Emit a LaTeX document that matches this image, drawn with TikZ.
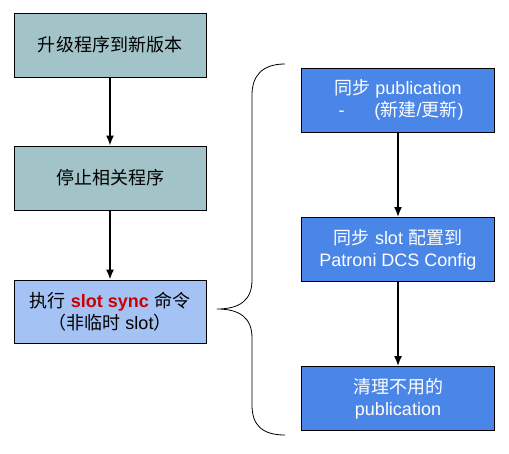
\documentclass[tikz,border=0pt]{standalone}
\usepackage{fontspec}
\setmainfont{Liberation Sans}
\newfontfamily\cjk{Noto Sans CJK SC}
\usetikzlibrary{arrows.meta}
\definecolor{teal1}{HTML}{A2C4C9}
\definecolor{lblue}{HTML}{A4C2F4}
\definecolor{dblue}{HTML}{4A86E8}
\definecolor{redt}{HTML}{CC0000}
\tikzset{
  box/.style={draw=black, line width=0.9bp, minimum width=192bp, minimum height=64bp,
    align=center, inner sep=0pt, font=\fontsize{18bp}{21.7bp}\selectfont},
  leftbox/.style={box, fill=teal1, text=black},
  execbox/.style={box, fill=lblue, text=black, minimum height=63bp},
  rightbox/.style={box, fill=dblue, text=white, minimum width=193bp},
  flow/.style={line width=1.6bp, -{Latex[length=10bp,width=8bp]}},
  brace/.style={line width=0.8bp, black}
}
\begin{document}
\begin{tikzpicture}[x=1bp,y=-1bp]
\useasboundingbox (0,0) rectangle (509,454);
\node[leftbox] (up) at (110,45) {{\cjk 升级程序到新版本}};
\node[leftbox] (stop) at (110,178) {{\cjk 停止相关程序}};
\node[execbox] (exec) at (110,311.5) {{\cjk 执行} \textcolor{redt}{\textbf{slot sync}} {\cjk 命令}\\{\cjk （非临时} slot{\cjk ）}};
\node[rightbox] (pub) at (398,100) {{\cjk 同步} publication\\\hspace*{6bp}-\hspace{30bp}({\cjk 新建}/{\cjk 更新})};
\node[rightbox] (cfg) at (398,249.5) {{\cjk 同步} slot {\cjk 配置到}\\Patroni DCS Config};
\node[rightbox] (clean) at (398,398.5) {{\cjk 清理不用的}\\publication};
\draw[flow] (up) -- (stop);
\draw[flow] (stop) -- (exec);
\draw[flow] (pub) -- (cfg);
\draw[flow] (cfg) -- (clean);
\coordinate (btop) at (285,64);
\coordinate (btip) at (217,309);
\coordinate (bbot) at (285,435);
\draw[brace] (btop) .. controls (262,64) and (252,76) .. (252,95) -- (252,280)
  .. controls (252,300) and (240,309) .. (btip)
  .. controls (240,309) and (252,318) .. (252,338) -- (252,405)
  .. controls (252,425) and (262,435) .. (bbot);
\end{tikzpicture}
\end{document}
